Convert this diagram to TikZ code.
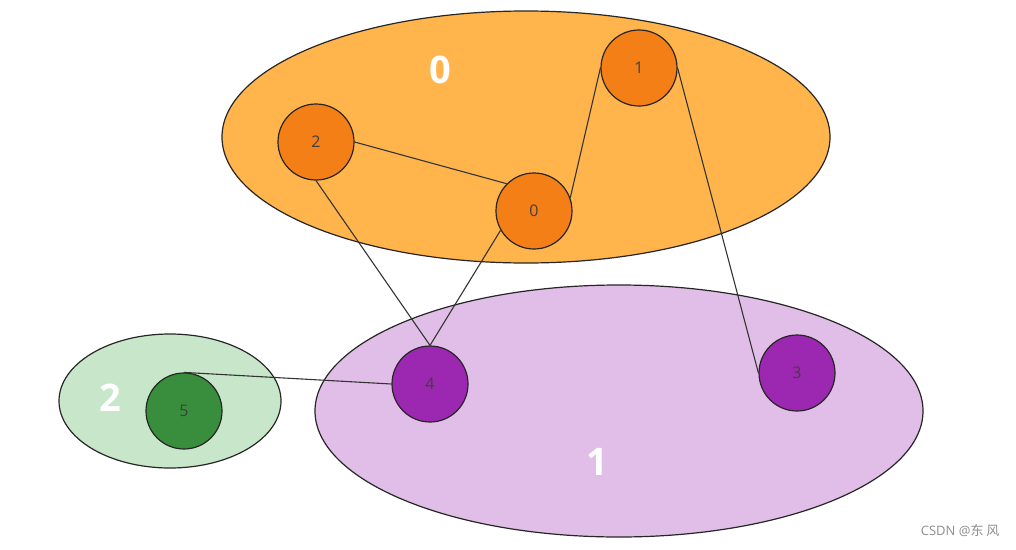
\documentclass[tikz,border=0pt]{standalone}
\usepackage{fontspec}
\setmainfont{Open Sans}
\newfontfamily\cjk{Noto Sans CJK SC}
\begin{document}
\begin{tikzpicture}[x=1pt,y=-1pt,
  grp/.style={draw=black!85,line width=1.2pt},
  vtx/.style={circle,draw=black!85,line width=1.2pt,minimum size=76pt,inner sep=0pt,font=\fontsize{16}{16}\selectfont,text=black!75},
  glab/.style={text=white,font=\bfseries\fontsize{38}{38}\selectfont},
  edge/.style={draw=black!80,line width=1.1pt}]
\useasboundingbox (0,0) rectangle (1016,549);
\definecolor{og}{HTML}{FFB44C}\definecolor{pg}{HTML}{E1BEE7}\definecolor{gg}{HTML}{C8E6C9}
\definecolor{ov}{HTML}{F57F17}\definecolor{pv}{HTML}{9C27B0}\definecolor{gv}{HTML}{388E3C}
\path[grp,fill=og] (526,137) ellipse [x radius=304,y radius=126];
\path[grp,fill=pg] (619,411) ellipse [x radius=304,y radius=126];
\path[grp,fill=gg] (170,401) ellipse [x radius=111,y radius=67];
\node[glab] (g0) at (440,70) {0};
\node[glab] (g1) at (597,462) {1};
\node[glab] (g2) at (110,398) {2};
\node[vtx,fill=ov] (n2) at (316,142) {2};
\node[vtx,fill=ov] (n1) at (639,68) {1};
\node[vtx,fill=ov] (n0) at (534,211) {0};
\node[vtx,fill=pv] (n4) at (430,384) {4};
\node[vtx,fill=pv] (n3) at (797,373) {3};
\node[vtx,fill=gv] (n5) at (184,411) {5};
\draw[edge] (n2.east) -- (n0.north west);
\draw[edge] (n0.20) -- (n1.west);
\draw[edge] (n2.south) -- (n4.north);
\draw[edge] (n0.210) -- (n4.north);
\draw[edge] (n1.east) -- (n3.west);
\draw[edge] (n5.north) -- (n4.west);
\node[text=black!45,anchor=east,font=\fontsize{13}{13}\selectfont] (wm) at (1003,531) {CSDN @{\cjk 东 风}};
\end{tikzpicture}
\end{document}
